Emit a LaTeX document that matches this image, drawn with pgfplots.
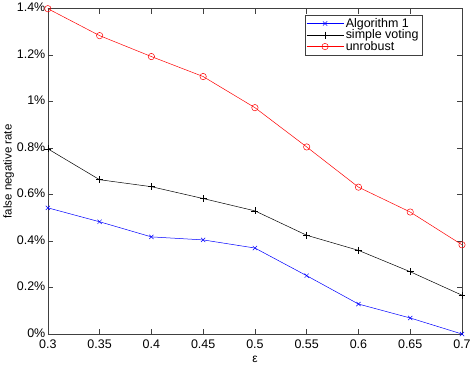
\documentclass[border=0pt]{standalone}
\usepackage{pgfplots}
\pgfplotsset{compat=1.18}
\usepackage{fontspec}
\setmainfont{Liberation Sans}
\begin{document}
\begin{tikzpicture}
\begin{axis}[
  scale only axis,
  width=415pt, height=326pt,
  xmin=0.3, xmax=0.7, ymin=0, ymax=1.4,
  xtick={0.3,0.35,0.4,0.45,0.5,0.55,0.6,0.65,0.7},
  xticklabels={0.3,0.35,0.4,0.45,0.5,0.55,0.6,0.65,0.7},
  ytick={0,0.2,0.4,0.6,0.8,1,1.2,1.4},
  yticklabels={0\%,0.2\%,0.4\%,0.6\%,0.8\%,1\%,1.2\%,1.4\%},
  tick align=inside, xtick pos=both, ytick pos=both,
  major tick length=5pt,
  tick label style={font=\fontsize{12.5}{14}\selectfont},
  xticklabel style={yshift=-2.5pt},
  yticklabel style={xshift=1pt, yshift=1pt},
  /pgf/number format/assume math mode=true,
  xlabel={ε}, ylabel={false negative rate},
  xlabel style={font=\fontsize{12}{12}\selectfont, yshift=0pt},
  ylabel style={font=\fontsize{11.5}{12}\selectfont, yshift=-4pt},
  axis line style={line width=0.6pt, black!75},
  every tick/.style={black!75},
  legend style={at={(0.904,0.982)}, anchor=north east, font=\fontsize{12.5}{13}\selectfont,
    draw=black!75, row sep=-3pt, inner sep=1.5pt},
  legend cell align=left,
  legend image code/.code={\draw[mark repeat=2,mark phase=2] plot coordinates {(0cm,0cm)(0.65cm,0cm)(1.3cm,0cm)};},
]
\addplot[blue, mark=x, mark size=3pt, line width=0.5pt] coordinates {
(0.3,0.543)(0.35,0.483)(0.4,0.418)(0.45,0.405)(0.5,0.370)(0.55,0.251)(0.6,0.129)(0.65,0.069)(0.7,0.0)};
\addlegendentry{Algorithm 1}
\addplot[black, mark=+, mark size=3.5pt, line width=0.5pt] coordinates {
(0.3,0.797)(0.35,0.664)(0.4,0.634)(0.45,0.583)(0.5,0.530)(0.55,0.425)(0.6,0.360)(0.65,0.268)(0.7,0.167)};
\addlegendentry{simple voting}
\addplot[red, mark=o, mark size=3.2pt, line width=0.5pt] coordinates {
(0.3,1.400)(0.35,1.284)(0.4,1.194)(0.45,1.108)(0.5,0.974)(0.55,0.805)(0.6,0.632)(0.65,0.525)(0.7,0.384)};
\addlegendentry{unrobust}
\end{axis}
\end{tikzpicture}
\end{document}
